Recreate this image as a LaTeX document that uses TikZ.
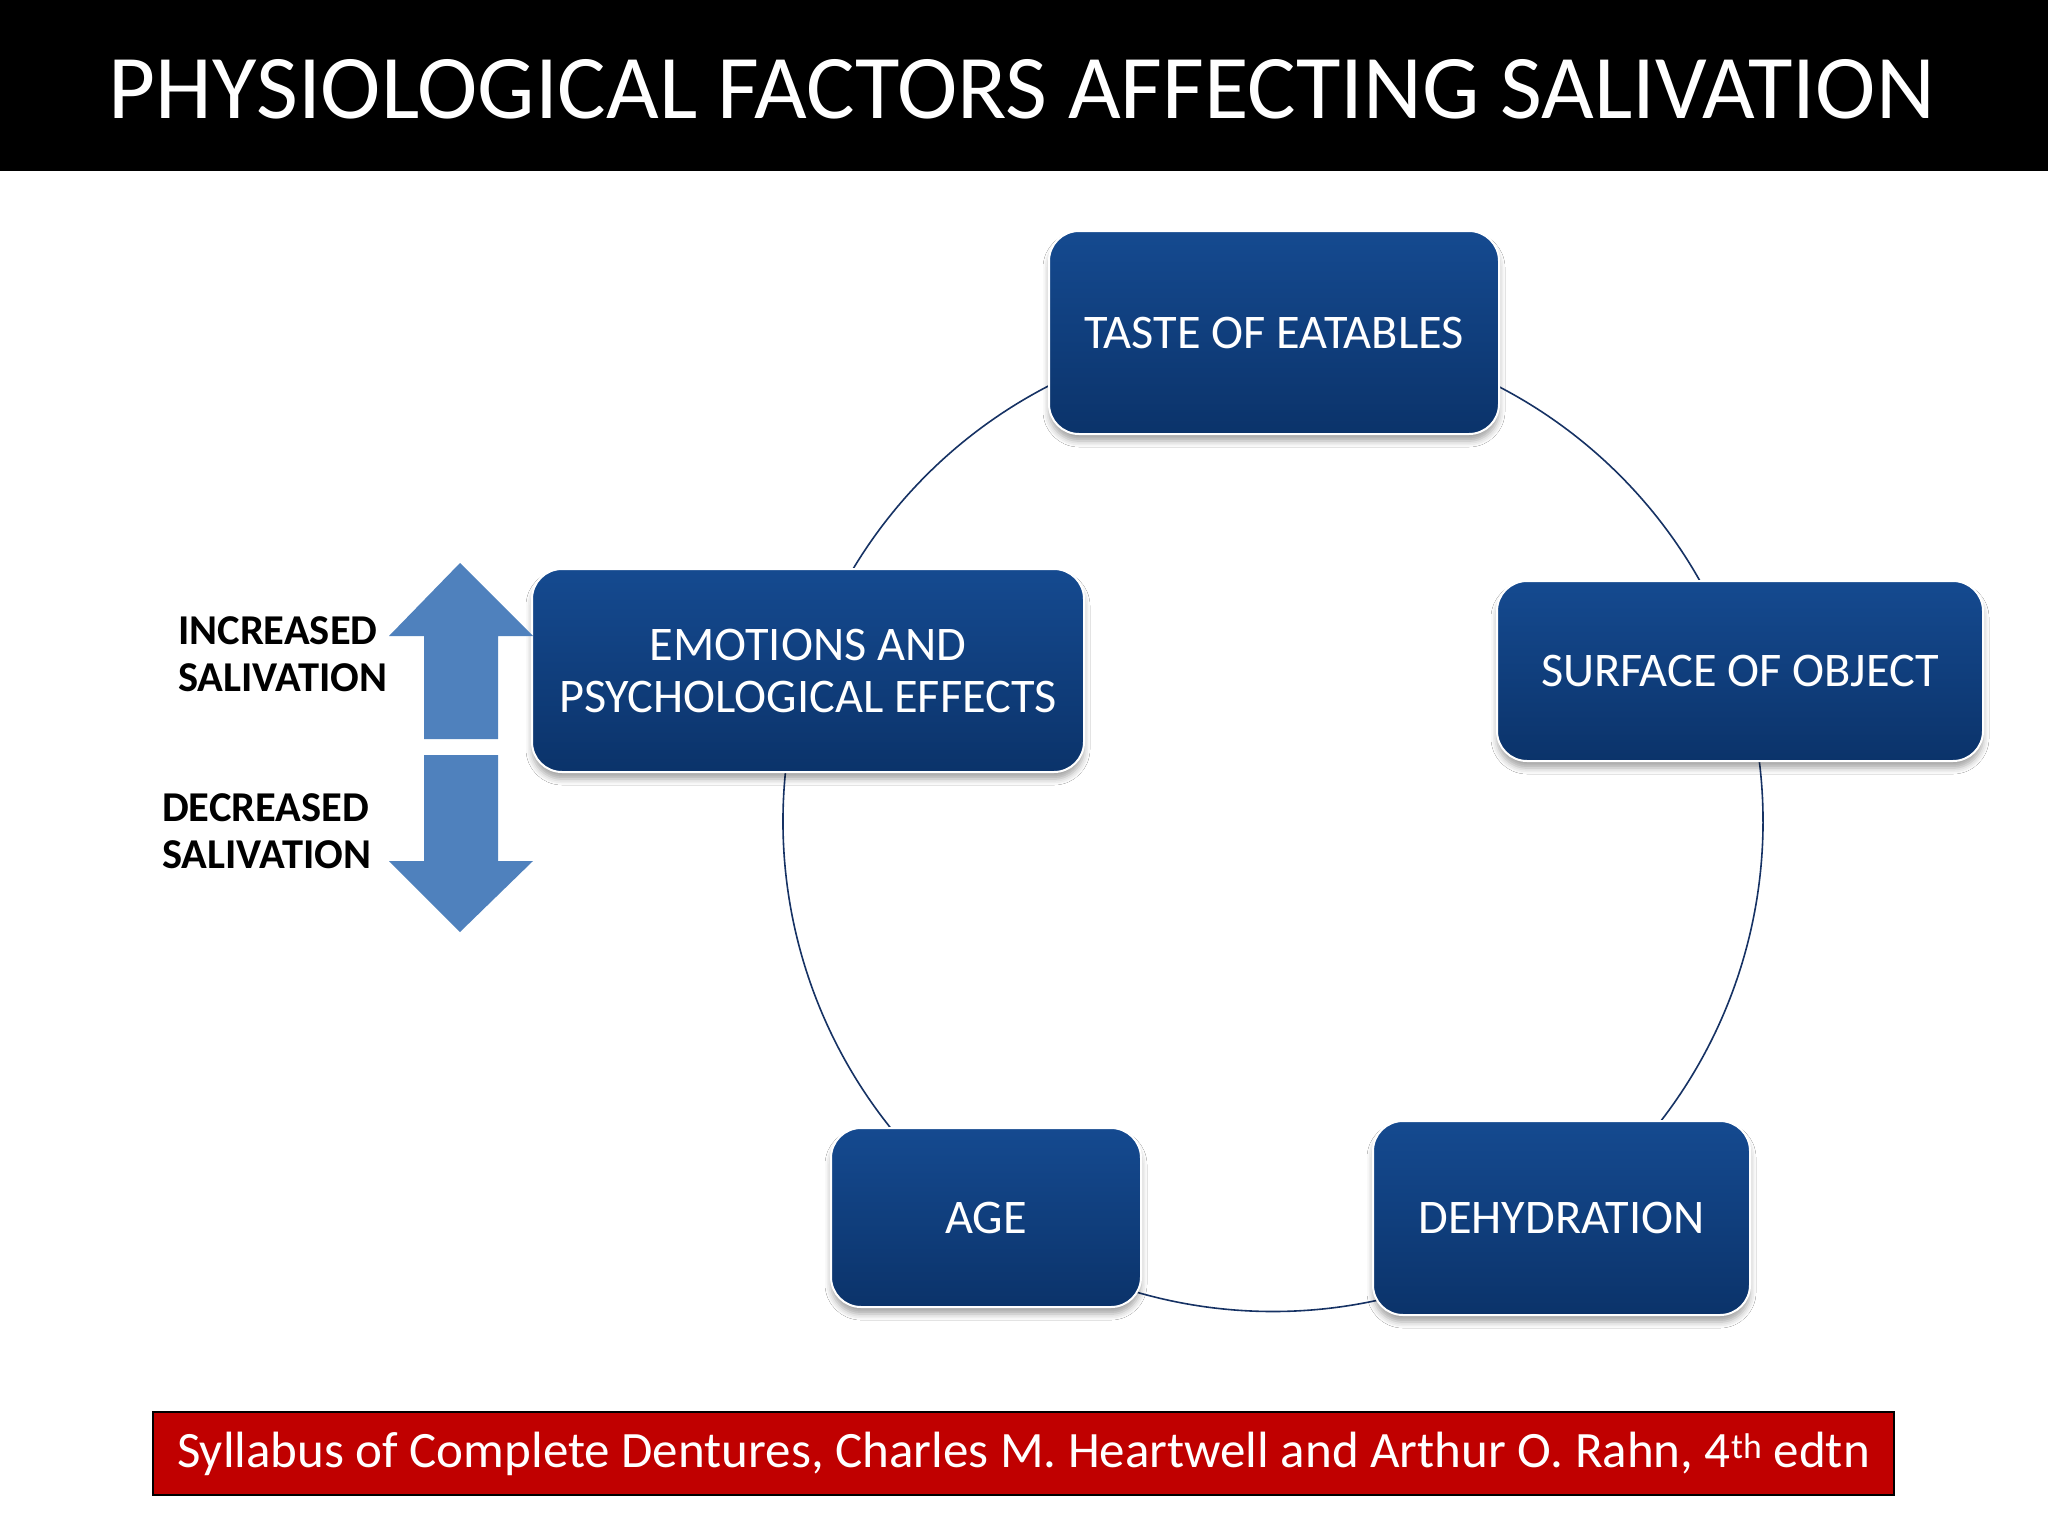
\documentclass[tikz,border=0pt]{standalone}
\usepackage{fontspec}
\setmainfont{Carlito}
\usetikzlibrary{shadows.blur,calc}
\definecolor{boxtop}{RGB}{21,74,144}
\definecolor{boxbot}{RGB}{11,51,106}
\definecolor{conn}{RGB}{22,50,100}
\definecolor{arrowblue}{RGB}{79,129,189}
\definecolor{footred}{RGB}{192,0,0}
\tikzset{
  factor/.style={rounded corners=30pt, top color=boxtop, bottom color=boxbot,
    draw=white, line width=2pt, text=white, align=center,
    font=\fontsize{48.3}{52}\selectfont,
    blur shadow={shadow xshift=0pt, shadow yshift=-7pt, shadow blur radius=6pt, shadow opacity=35}},
  cyc/.style={draw=conn, line width=1.6pt},
  bigarrow/.style={fill=arrowblue, draw=none},
  sidelabel/.style={align=left, anchor=west, font=\bfseries\fontsize{42.5}{47}\selectfont, inner sep=0pt},
}
\begin{document}
\begin{tikzpicture}[x=1pt,y=1pt]
\useasboundingbox (0,0) rectangle (2048,-1536);
\fill[white] (0,0) rectangle (2048,-1536);
% title bar
\fill[black] (0,0) rectangle (2048,-171);
\node[text=white, font=\fontsize{91}{100}\selectfont] (title) at (1022,-89) {PHYSIOLOGICAL FACTORS AFFECTING SALIVATION};
% cycle center
\coordinate (c) at (1273,-821.5);
% connectors (arcs of the cycle, running beneath the boxes)
\draw[cyc] ($(c)+(90:490pt)$) arc[start angle=90, end angle=18, radius=490pt];
\draw[cyc] ($(c)+(18:490pt)$) arc[start angle=18, end angle=-54, radius=490pt];
\draw[cyc] ($(c)+(-54:490pt)$) arc[start angle=-54, end angle=-126, radius=490pt];
\draw[cyc] ($(c)+(-126:490pt)$) arc[start angle=-126, end angle=-198, radius=490pt];
\draw[cyc] ($(c)+(162:490pt)$) arc[start angle=162, end angle=90, radius=490pt];
% factor boxes
\node[factor, minimum width=450pt, minimum height=203pt] (taste) at (1274,-332.5) {TASTE OF EATABLES};
\node[factor, minimum width=486pt, minimum height=180pt] (surface) at (1740,-671) {SURFACE OF OBJECT};
\node[factor, minimum width=310pt, minimum height=179pt] (age) at (986,-1217.5) {AGE};
\node[factor, minimum width=377pt, minimum height=194pt] (dehyd) at (1561.5,-1218) {DEHYDRATION};
\node[factor, minimum width=552pt, minimum height=203pt] (emo) at (808,-670.5) {EMOTIONS AND\\PSYCHOLOGICAL EFFECTS};
% increase / decrease arrows
\fill[bigarrow] (460,-563) -- (533,-636) -- (498,-636) -- (498,-739) -- (424,-739) -- (424,-636) -- (389,-636) -- cycle;
\fill[bigarrow] (424,-755) -- (498,-755) -- (498,-861) -- (533,-861) -- (460,-932) -- (389,-861) -- (424,-861) -- cycle;
\node[sidelabel] (inc) at (178,-654.5) {INCREASED\\SALIVATION};
\node[sidelabel] (dec) at (162,-831.5) {DECREASED\\SALIVATION};
% footer reference
\node[draw=black, line width=2pt, fill=footred, text=white, minimum width=1741pt, minimum height=83pt,
  font=\fontsize{51}{58}\selectfont] (ref) at (1023.5,-1453.5)
  {Syllabus of Complete Dentures, Charles M. Heartwell and Arthur O. Rahn, 4\textsuperscript{th} edtn};
\end{tikzpicture}
\end{document}
